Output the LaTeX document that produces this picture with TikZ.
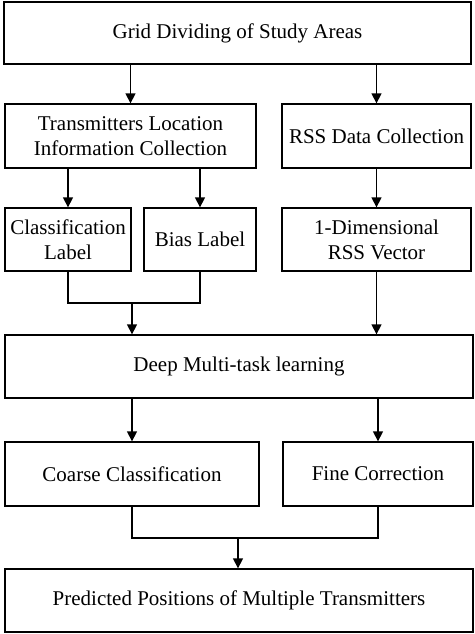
\documentclass[tikz,border=0pt]{standalone}
\usepackage{fontspec}
\setmainfont{Liberation Serif}
\usetikzlibrary{arrows.meta}
\begin{document}
\begin{tikzpicture}[x=1pt,y=-1pt,
  box/.style={draw,line width=1.3pt,inner sep=0pt,align=center,
    font=\fontsize{21}{25}\selectfont},
  arr/.style={line width=1.3pt,-{Triangle[length=10pt,width=10pt]}},
  ln/.style={line width=1.3pt}]
\useasboundingbox (0,0) rectangle (474,634);
\node[box,minimum width=467pt,minimum height=62pt] (top) at (237.5,33) {Grid Dividing of Study Areas};
\node[box,minimum width=251pt,minimum height=64pt] (tlic) at (130.5,136) {Transmitters Location\\Information Collection};
\node[box,minimum width=189pt,minimum height=64pt] (rss) at (376.5,136) {RSS Data Collection};
\node[box,minimum width=126pt,minimum height=63pt] (cls) at (68,239.5) {Classification\\Label};
\node[box,minimum width=112pt,minimum height=63pt] (bias) at (200,239.5) {Bias Label};
\node[box,minimum width=189pt,minimum height=63pt] (vec) at (376.5,239.5) {1-Dimensional\\RSS Vector};
\node[box,minimum width=468pt,minimum height=63pt] (dml) at (239,366.5) {Deep Multi-task learning};
\node[box,minimum width=254pt,minimum height=64pt] (coarse) at (132,474) {Coarse Classification};
\node[box,minimum width=190pt,minimum height=64pt] (fine) at (378,474) {Fine Correction};
\node[box,minimum width=468pt,minimum height=63pt] (final) at (239,600.5) {Predicted Positions of Multiple Transmitters};
\coordinate (j1) at (132,303);
\coordinate (j2) at (238,538);
\draw[arr] (top.south -| tlic.north) -- (tlic.north);
\draw[arr] (top.south -| rss.north) -- (rss.north);
\draw[arr] (tlic.south -| cls.north) -- (cls.north);
\draw[arr] (tlic.south -| bias.north) -- (bias.north);
\draw[arr] (rss.south) -- (vec.north);
\draw[ln] (cls.south) |- (j1) -| (bias.south);
\draw[arr] (j1) -- (j1 |- dml.north);
\draw[arr] (vec.south) -- (vec.south |- dml.north);
\draw[arr] (dml.south -| coarse.north) -- (coarse.north);
\draw[arr] (dml.south -| fine.north) -- (fine.north);
\draw[ln] (coarse.south) |- (j2) -| (fine.south);
\draw[arr] (j2) -- (j2 |- final.north);
\end{tikzpicture}
\end{document}
